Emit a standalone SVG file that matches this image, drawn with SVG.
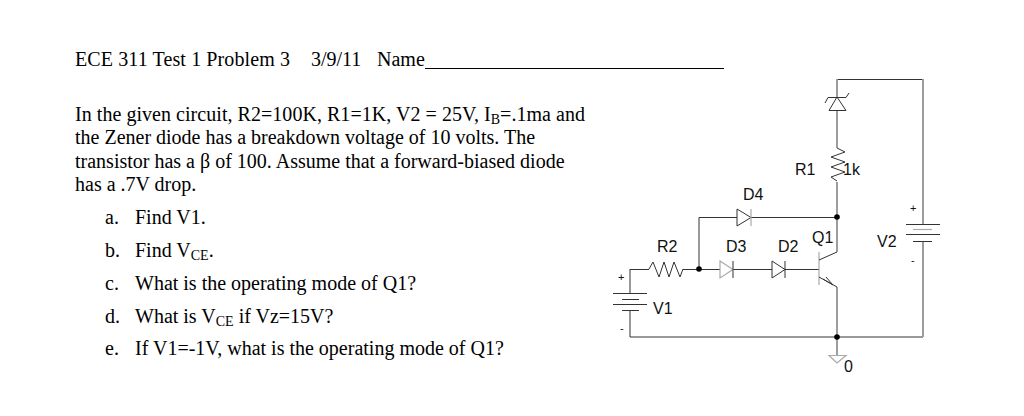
<svg xmlns="http://www.w3.org/2000/svg" width="1024" height="416" viewBox="0 0 1024 416">
<style>
.t{font-family:"Liberation Serif","Times New Roman",serif;font-size:20px;fill:#000}
.s{font-size:14px}
.l{font-family:"Liberation Sans",Arial,sans-serif;font-size:16px;fill:#111}
.p{font-size:11px}
.w{fill:none;stroke:#333;stroke-width:1}
.g{fill:none;stroke:#999;stroke-width:1.9}
.h{fill:none;stroke:#aaa;stroke-width:1.2}
.d{fill:#000}
</style>
<rect width="1024" height="416" fill="#fff"/>
<g id="problem-text">
<text class="t" x="75" y="65.5" textLength="215">ECE 311 Test 1 Problem 3</text>
<text class="t" x="311" y="65.5">3/9/11</text>
<text class="t" x="377" y="65.5">Name</text>
<line x1="425" y1="68.5" x2="724" y2="68.5" stroke="#000" stroke-width="1"/>
<text class="t" x="75" y="121" textLength="510">In the given circuit, R2=100K, R1=1K, V2 = 25V, I<tspan class="s" dy="3">B</tspan><tspan dy="-3">=.1ma and</tspan></text>
<text class="t" x="75" y="144">the Zener diode has a breakdown voltage of 10 volts. The</text>
<text class="t" x="75" y="168">transistor has a β of 100. Assume that a forward-biased diode</text>
<text class="t" x="75" y="191">has a .7V drop.</text>
<text class="t" x="105" y="224">a.</text><text class="t" x="135" y="224">Find V1.</text>
<text class="t" x="105" y="257">b.</text><text class="t" x="135" y="257">Find V<tspan class="s" dy="3">CE</tspan><tspan dy="-3">.</tspan></text>
<text class="t" x="105" y="290">c.</text><text class="t" x="135" y="290">What is the operating mode of Q1?</text>
<text class="t" x="105" y="323">d.</text><text class="t" x="135" y="323">What is V<tspan class="s" dy="3">CE</tspan><tspan dy="-3"> if Vz=15V?</tspan></text>
<text class="t" x="105" y="355">e.</text><text class="t" x="135" y="355">If V1=-1V, what is the operating mode of Q1?</text>
</g>
<g id="connectors">
<path class="w" d="M837 79.5H923"/>
<path class="g" d="M837 79V97M837 111V148M837 182V252M923 79V224M923 241V337M630 337H923M837 287V355"/>
<path class="w" d="M699 217.5V269M699 217.5H737M751 217.5H837M630 310V337M630 269V293M630 269.5H649M683 269.5H720M733 269.5H772M785 269.5H819"/>
</g>
<g id="Z1"><path class="w" d="M837 97L846 110.5H829Z"/><path class="w" d="M825 103L828 97.5H846L849 93"/></g>
<g id="R1"><path class="w" d="M837 148L845 152L831 157L845 162L831 167L845 172L831 177L837 181"/><text class="l" x="795" y="175">R1</text><text class="l" x="843" y="175">1k</text></g>
<g id="D4"><path class="w" d="M737 209L751 217.5L737 226Z"/><path class="h" d="M751 209V226"/><text class="l" x="743" y="200">D4</text></g>
<g id="D3"><path class="h" d="M720 261L733 269.5L720 278Z"/><path class="w" d="M733 261V278"/><text class="l" x="726" y="252">D3</text></g>
<g id="D2"><path class="w" d="M772 261L785 269.5L772 278Z"/><path class="w" d="M785 261V278"/><text class="l" x="778" y="252">D2</text></g>
<g id="R2"><path class="w" d="M649 269L653 262L659 277L664 262L669 277L674 262L680 277L683 269"/><text class="l" x="657" y="252">R2</text></g>
<g id="Q1"><path class="h" d="M819 252V285"/><path class="w" d="M819 260L837 252M819 277L837 287M823 279L833 285L826 277"/><text class="l" x="812" y="243">Q1</text></g>
<g id="V1"><path class="w" d="M613 293.5H647M622 299.5H639M613 304.5H647M622 310.5H639"/><text class="l p" x="618" y="281">+</text><text class="l p" x="620" y="332">-</text><text class="l" x="653" y="314">V1</text></g>
<g id="V2"><path class="w" d="M906 224.5H940M906 234.5H940M913 241.5H932"/><path class="h" d="M913 229.5H932"/><text class="l p" x="910" y="212">+</text><text class="l p" x="911" y="264">-</text><text class="l" x="877" y="247">V2</text></g>
<g id="GND"><path class="h" d="M829 355.5H846L837 363Z"/><text class="l" x="844" y="372">0</text></g>
<g id="junctions"><circle class="d" cx="837" cy="217" r="2.8"/><circle class="d" cx="699" cy="269" r="2.8"/><circle class="d" cx="837" cy="337" r="2.8"/></g>
</svg>
